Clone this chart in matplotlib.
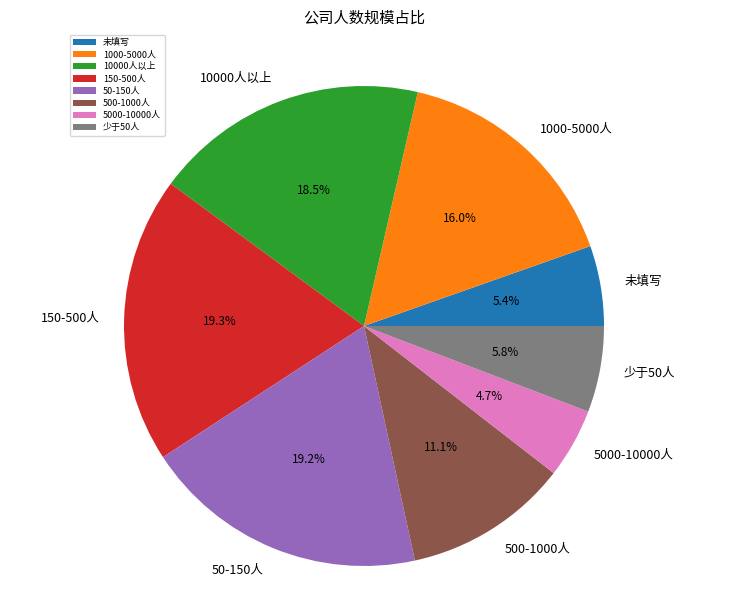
import matplotlib.pyplot as plt

plt.rcParams['font.family'] = ['Noto Sans CJK SC', 'DejaVu Sans']
plt.rcParams['axes.unicode_minus'] = False

# company size categories and their share (%)
sizes = ["未填写", "1000-5000人", "10000人以上", "150-500人",
         "50-150人", "500-1000人", "5000-10000人", "少于50人"]
shares = [5.4, 16.0, 18.5, 19.3, 19.2, 11.1, 4.7, 5.8]

fig = plt.figure(figsize=(7.36, 6.04), dpi=100)
# pie limits are +-1.25, so 600px axes gives radius ~240px
ax = fig.add_axes([64 / 736, -22 / 604, 600 / 736, 600 / 604])

wedges, texts, autotexts = ax.pie(shares, labels=sizes, autopct="%1.1f%%",
                                  textprops={"fontsize": 9})
for t in autotexts:
    t.set_fontsize(8.5)
ax.set_aspect("equal")

fig.text(364 / 736, 1 - 18 / 604, "公司人数规模占比", ha="center", va="center", fontsize=11)

fig.legend(wedges, sizes, loc="upper left", bbox_to_anchor=(65 / 736, 1 - 30 / 604),
           fontsize=6.5, handlelength=2.5, borderpad=0.4, labelspacing=0.35)

plt.savefig("out.png", dpi=100)
